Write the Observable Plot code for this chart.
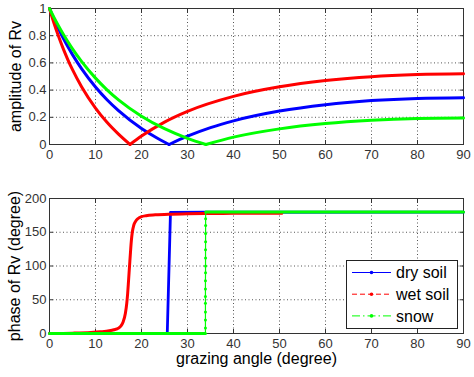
<!DOCTYPE html>
<html><head><meta charset="utf-8">
<script src="https://cdn.jsdelivr.net/npm/d3@7"></script>
<script src="https://cdn.jsdelivr.net/npm/@observablehq/plot@0.6"></script>
<style>
body{margin:0;background:#fff;}
#chart{position:relative;width:474px;height:377px;font-family:"Liberation Sans",Arial,sans-serif;}
#chart svg{display:block;}
</style></head><body><div id="chart"></div>
<script>
// ---- data ----
const xTicks = [0, 10, 20, 30, 40, 50, 60, 70, 80, 90];
const ampTicks = [0, 0.2, 0.4, 0.6, 0.8, 1];
const phaseTicks = [0, 50, 100, 150, 200];
const seriesNames = ["dry soil", "wet soil", "snow"];
const seriesColors = ["#0000ff", "#ff0000", "#00ff00"];
const xLabel = "grazing angle (degree)";
const ampLabel = "amplitude of Rv";
const phaseLabel = "phase of Rv (degree)";

// amplitude of Rv: [grazing angle, amplitude]
const dryAmp = [[0,1],[1,0.921],[2,0.849],[3,0.781],[4,0.719],[5,0.661],[7,0.556],[10,0.423],[12.5,0.329],[15,0.249],[20,0.118],[23,0.055],[26,0],
  [30,0.061],[35,0.124],[40,0.174],[50,0.246],[60,0.293],[70,0.323],[80,0.339],[90,0.344]];
const wetAmp = [[0,1],[1,0.890],[2,0.792],[3,0.703],[4,0.623],[5,0.550],[7,0.423],[10,0.268],[12.5,0.163],[15,0.076],[17.5,0],
  [20,0.062],[25,0.165],[30,0.244],[40,0.354],[50,0.424],[60,0.470],[70,0.499],[80,0.514],[90,0.520]];
const snowAmp = [[0,1],[1,0.932],[2,0.869],[3,0.810],[4,0.755],[5,0.703],[7,0.609],[10,0.488],[12.5,0.402],[15,0.328],[20,0.208],[25,0.116],[30,0.045],[34,0],
  [40,0.054],[50,0.115],[60,0.154],[70,0.178],[80,0.191],[90,0.195]];

// phase of Rv: [grazing angle, phase in degrees]
const dryPhase = [[0,0],[25.6,0],[26.3,179.5],[34,179.6],[90,179.8]];
const wetPhase = [[0,0],[5,0.5],[9,1.5],[11,2.5],[13,4],[14,5.5],[15,8],[15.5,11],[16,17],[16.5,30],[16.8,45],[17,60],[17.2,80],[17.4,100],
  [17.6,120],[17.8,138],[18,150],[18.3,160],[18.7,166],[19.2,170],[20,173],[21,174.5],[23,175.8],[26,176.8],[30,177.3],[35,177.8],[40,178],[45,178.2],[50.5,178.3]];
const snowPhaseLow = [[0,0],[33.9,0]];
const snowPhaseHigh = [[33.95,180],[90,180]];
const snowPhaseJump = [[33.9,8],[33.9,20],[33.9,32],[33.9,45],[33.9,55],[33.9,66],[33.9,78],[33.92,90],[33.92,100],[33.92,112],[33.92,124],[33.93,136],[33.93,148],[33.94,160],[33.94,170]];

// ---- build tables ----
const colorOf = new Map(seriesNames.map((n, i) => [n, seriesColors[i]]));
function ampRows(arr, name) {
  const i = d3.minIndex(arr, d => d[1]);
  return [
    ...arr.slice(0, i + 1).map(([angle, value]) => ({angle, value, name, seg: name + "-fall"})),
    ...arr.slice(i).map(([angle, value]) => ({angle, value, name, seg: name + "-rise"}))
  ];
}
const rows = (arr, name, seg = name) => arr.map(([angle, value]) => ({angle, value, name, seg}));
const ampData = [...ampRows(dryAmp, "dry soil"), ...ampRows(wetAmp, "wet soil"), ...ampRows(snowAmp, "snow")];
const dryP = rows(dryPhase, "dry soil"), wetP = rows(wetPhase, "wet soil");
const snowFlat = [...rows(snowPhaseLow, "snow", "lo"), ...rows(snowPhaseHigh, "snow", "hi")];
const snowAll = [...rows(snowPhaseLow, "snow"), ...rows(snowPhaseJump, "snow"), ...rows(snowPhaseHigh, "snow")];
const snowJ = rows(snowPhaseJump, "snow");
const seriesColor = d => colorOf.get(d.name);

const font = '"Liberation Sans", Arial, sans-serif';
const gridOpts = {stroke: "#555", strokeOpacity: 1, strokeDasharray: "1,2.5"};
const plotStyle = {fontFamily: font, fontSize: "13px", background: "white", overflow: "visible"};

function frameMarks(yTicks) {
  return [
    Plot.gridX(xTicks, gridOpts),
    Plot.gridY(yTicks, gridOpts),
    Plot.frame({stroke: "#333"}),
    Plot.axisX(xTicks, {anchor: "bottom", tickSize: -4, tickPadding: 9, label: null, color: "#333"}),
    Plot.axisX(xTicks, {anchor: "top", tickSize: -4, tickFormat: () => "", label: null, color: "#333"}),
    Plot.axisY(yTicks, {anchor: "left", tickSize: -4, tickPadding: 7, label: null, color: "#333", tickFormat: d => String(d)}),
    Plot.axisY(yTicks, {anchor: "right", tickSize: -4, tickFormat: () => "", label: null, color: "#333"})
  ];
}

const ampPlot = Plot.plot({
  width: 474, height: 170, marginTop: 8, marginBottom: 26, marginLeft: 49, marginRight: 11,
  x: {domain: [0, 90]}, y: {domain: [0, 1]}, style: plotStyle,
  marks: [
    ...frameMarks(ampTicks),
    Plot.line(ampData, {x: "angle", y: "value", z: "seg", stroke: seriesColor, curve: "monotone-x", strokeWidth: 3}),
    Plot.text([ampLabel], {text: d => d, frameAnchor: "left", textAnchor: "middle", dx: -34, rotate: -90, fontSize: 16, fill: "#000"})
  ]
});

const phasePlot = Plot.plot({
  width: 474, height: 207, marginTop: 28, marginBottom: 44, marginLeft: 49, marginRight: 11,
  x: {domain: [0, 90]}, y: {domain: [0, 200]}, style: plotStyle,
  marks: [
    ...frameMarks(phaseTicks),
    Plot.line(dryP, {x: "angle", y: "value", stroke: seriesColor, strokeWidth: 2.8}),
    Plot.line(wetP, {x: "angle", y: "value", stroke: seriesColor, strokeWidth: 3, curve: "monotone-x"}),
    Plot.line(snowAll, {x: "angle", y: "value", stroke: seriesColor, strokeWidth: 1.2}),
    Plot.line(snowFlat, {x: "angle", y: "value", z: "seg", stroke: seriesColor, strokeWidth: 3}),
    Plot.dot(snowJ, {x: "angle", y: "value", fill: seriesColor, r: 1.5}),
    Plot.text([phaseLabel], {text: d => d, frameAnchor: "left", textAnchor: "middle", dx: -35, rotate: -90, fontSize: 16, fill: "#000"}),
    Plot.text([xLabel], {text: d => d, frameAnchor: "bottom", dy: 30, fontSize: 16, fill: "#000"})
  ]
});

const chart = document.getElementById("chart");
chart.append(ampPlot, phasePlot);

// legend
const dashes = [null, "5,3", "8,3,1.5,3"];
const leg = d3.select(chart).append("svg")
  .attr("width", 112).attr("height", 69)
  .style("position", "absolute").style("left", "346px").style("top", "260px");
leg.append("rect").attr("x", 0.5).attr("y", 0.5).attr("width", 111).attr("height", 68)
  .attr("fill", "#fff").attr("stroke", "#222");
seriesNames.forEach((name, i) => {
  const y = 12.5 + 21.7 * i;
  leg.append("line").attr("x1", 6).attr("x2", 45).attr("y1", y).attr("y2", y)
    .attr("stroke", seriesColors[i]).attr("stroke-width", 1).attr("stroke-dasharray", dashes[i]);
  leg.append("circle").attr("cx", 25.5).attr("cy", y).attr("r", 1.8).attr("fill", seriesColors[i]);
  leg.append("text").attr("x", 50).attr("y", y).attr("dy", "0.35em")
    .attr("font-family", font).attr("font-size", 16).attr("fill", "#000").text(name);
});
</script></body></html>
